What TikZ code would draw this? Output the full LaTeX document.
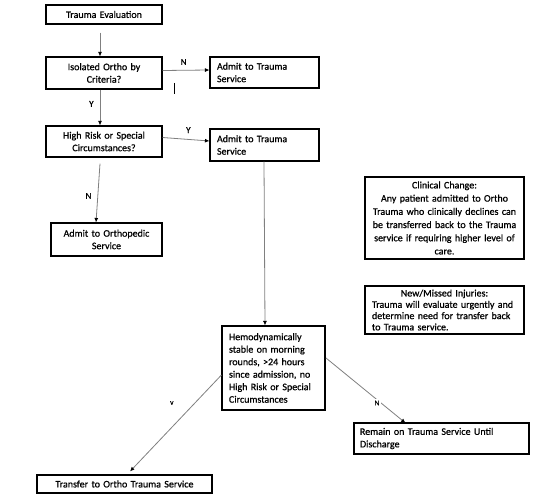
\documentclass[tikz,border=0pt]{standalone}
\usepackage{fontspec}
\setmainfont{Carlito}[FakeBold=0.7]
\usetikzlibrary{arrows.meta}
\newcommand{\fs}{\fontsize{10}{12.5}\selectfont}
\newcommand{\fsl}{\fontsize{9}{11}\selectfont}
\begin{document}
\begin{tikzpicture}[x=1pt,y=-1pt,
  box/.style={draw=black, line width=1.1pt, inner xsep=7pt, inner ysep=0pt, font=\fs, align=center},
  lbox/.style={box, align=left},
  conn/.style={draw=black!50, line width=0.8pt, -{Latex[length=4.5pt,width=4pt,color=black]}},
  lab/.style={font=\fsl, inner sep=1pt},
  slab/.style={font=\fontsize{7.5}{9}\selectfont, inner sep=1pt}
]
\useasboundingbox (0,0) rectangle (550,500);
\fill[white] (0,0) rectangle (550,500);

\node[box, text width=102pt, minimum height=19pt] (eval) at (104,14.5) {Trauma Evaluation};
\node[box, text width=102pt, minimum height=32pt] (iso) at (104,73) {Isolated Ortho by\\Criteria?};
\node[lbox, text width=95pt, minimum height=31pt] (adm1) at (264.5,72.5) {Admit to Trauma\\Service};
\node[box, text width=102pt, minimum height=31pt] (high) at (104,141.5) {High Risk or Special\\Circumstances?};
\node[lbox, text width=95pt, minimum height=32pt] (adm2) at (264.5,145) {Admit to Trauma\\Service};
\node[box, text width=97pt, minimum height=33pt] (ortho) at (106.5,239.5) {Admit to Orthopedic\\Service};
\node[box, text width=145pt, minimum height=82pt, font=\fontsize{10}{13.2}\selectfont] (clin) at (444.5,218) {Clinical Change:\\Any patient admitted to Ortho\\Trauma who clinically declines can\\be transferred back to the Trauma\\service if requiring higher level of\\care.};
\node[lbox, text width=145pt, minimum height=48pt, font=\fontsize{10}{11.3}\selectfont] (new) at (444.5,310) {\hfill New/Missed Injuries:\hfill\null\\Trauma will evaluate urgently and\\determine need for transfer back\\to Trauma service.};
\node[lbox, text width=89pt, minimum height=84pt] (hemo) at (273.5,368) {Hemodynamically\\stable on morning\\rounds, >24 hours\\since admission, no\\High Risk or Special\\Circumstances};
\node[lbox, inner xsep=6pt, text width=163pt, minimum height=31pt] (remain) at (441.5,438.5) {Remain on Trauma Service Until\\Discharge};
\node[box, text width=161pt, minimum height=18pt] (transfer) at (124.5,484) {Transfer to Ortho Trauma Service};

% connectors
\draw[conn] ([xshift=-4pt,yshift=-8pt]eval.south) -- ([xshift=-4pt]iso.north);
\draw[conn] ([xshift=-4pt]iso.south) -- node[lab, pos=0.4, left=5pt] {Y} ([xshift=-4pt]high.north);
\draw[conn] ([xshift=-4pt,yshift=-6pt]high.south) -- node[lab, pos=0.55, left=5pt] {N} ([xshift=-10.5pt]ortho.north);
\draw[conn] ([yshift=2.5pt]iso.east) -- node[lab, pos=0.45, above=4pt] {N} ([yshift=2.5pt]adm1.west);
\draw[conn] ([yshift=4pt]high.east) -- node[lab, pos=0.55, above=5pt] {Y} ([yshift=4pt]adm2.west);
\draw[conn] ([xshift=-0.5pt]adm2.south) -- ([xshift=-8.5pt]hemo.north);
\draw[conn] ([yshift=-7pt]hemo.west) -- node[slab, pos=0.29, left=20pt] {v} ([xshift=5.5pt,yshift=3pt]transfer.north);
\coordinate (hr) at (326,358);
\coordinate (rt) at (405.5,423);
\draw[conn] (hr) -- (rt);
\node[slab, fill=white, inner xsep=2pt, inner ysep=1.5pt] (nl) at (377,403) {N};

% stray mark
\coordinate (m1) at (174,83);
\coordinate (m2) at (174,94);
\draw[black, line width=0.9pt] (m1) -- (m2);
\end{tikzpicture}
\end{document}
